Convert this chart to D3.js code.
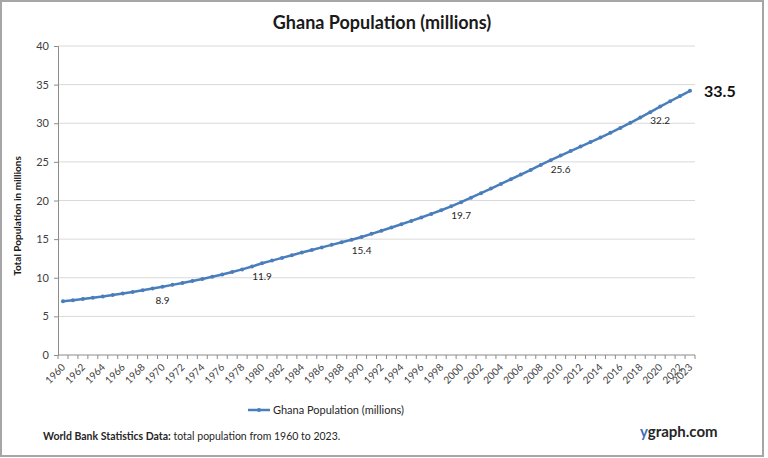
<!DOCTYPE html>
<html>
<head>
<meta charset="utf-8">
<script src="https://cdn.jsdelivr.net/npm/d3@7"></script>
<style>
  body { margin: 0; background: #fff; }
  text { font-family: Lato, "Open Sans", sans-serif; }
</style>
</head>
<body>
<svg id="chart"></svg>
<script>
const years = d3.range(1960, 2024);
const population = [
  6.95, 7.10, 7.25, 7.41, 7.58, 7.76, 7.95, 8.15, 8.38, 8.60,
  8.84, 9.08, 9.33, 9.58, 9.84, 10.12, 10.42, 10.74, 11.08, 11.46,
  11.87, 12.22, 12.57, 12.92, 13.26, 13.60, 13.93, 14.26, 14.60, 14.92,
  15.28, 15.68, 16.08, 16.50, 16.92, 17.36, 17.80, 18.26, 18.74, 19.24,
  19.78, 20.36, 20.95, 21.55, 22.15, 22.75, 23.36, 23.96, 24.60, 25.22,
  25.82, 26.40, 26.98, 27.56, 28.14, 28.76, 29.40, 30.06, 30.74, 31.44,
  32.16, 32.85, 33.52, 34.20
];
const labelYears = [1970, 1980, 1990, 2000, 2010, 2020];
const labelTexts = ["8.9", "11.9", "15.4", "19.7", "25.6", "32.2"];
const lastLabel = "33.5";
const xTickYears = [1960, 1962, 1964, 1966, 1968, 1970, 1972, 1974, 1976, 1978,
  1980, 1982, 1984, 1986, 1988, 1990, 1992, 1994, 1996, 1998, 2000, 2002, 2004,
  2006, 2008, 2010, 2012, 2014, 2016, 2018, 2020, 2022, 2023];
const yTicks = [0, 5, 10, 15, 20, 25, 30, 35, 40];

const W = 768, H = 458;
const M = { top: 46, right: 73, bottom: 103, left: 58 };
const PW = W - M.left - M.right;
const PH = H - M.top - M.bottom;
const lineColor = "#4a7ebb";

const svg = d3.select("#chart")
  .attr("width", W)
  .attr("height", H)
  .attr("viewBox", `0 0 ${W} ${H}`);

svg.append("rect")
  .attr("x", 1).attr("y", 1)
  .attr("width", 762).attr("height", 455)
  .attr("fill", "#fff")
  .attr("stroke", "#a6a6a6")
  .attr("stroke-width", 2);

svg.append("text")
  .attr("x", 382).attr("y", 29)
  .attr("text-anchor", "middle")
  .attr("font-size", 18)
  .attr("font-weight", "bold")
  .attr("fill", "#1a1a1a")
  .text("Ghana Population (millions)");

const g = svg.append("g")
  .attr("transform", `translate(${M.left},${M.top})`);

const x = d3.scaleBand()
  .domain(years)
  .range([0, PW]);

const y = d3.scaleLinear()
  .domain([0, 40])
  .range([PH, 0]);

const cx = d => x(d) + x.bandwidth() / 2;

// grid
g.append("g")
  .selectAll("line")
  .data(yTicks.filter(d => d > 0))
  .enter()
  .append("line")
  .attr("x1", 0).attr("x2", PW)
  .attr("y1", d => y(d)).attr("y2", d => y(d))
  .attr("stroke", "#d9d9d9")
  .attr("stroke-width", 1);

// y axis
g.append("g")
  .call(d3.axisLeft(y).tickValues(yTicks).tickSize(4).tickPadding(5))
  .call(g => g.select(".domain").attr("stroke", "#8c8c8c"))
  .call(g => g.selectAll(".tick line").attr("stroke", "#8c8c8c"))
  .selectAll("text")
  .attr("font-family", "Lato, sans-serif")
  .attr("font-size", 11)
  .attr("fill", "#404040");

// x axis: ticks at category boundaries
const xg = g.append("g")
  .attr("transform", `translate(0,${PH})`);

xg.append("line")
  .attr("x1", 0).attr("x2", PW)
  .attr("stroke", "#8c8c8c");

xg.selectAll(".bound")
  .data(years.concat([2024]))
  .enter()
  .append("line")
  .attr("class", "bound")
  .attr("x1", d => d === 2024 ? PW : x(d))
  .attr("x2", d => d === 2024 ? PW : x(d))
  .attr("y1", 0).attr("y2", 4)
  .attr("stroke", "#8c8c8c");

xg.selectAll(".xlab")
  .data(xTickYears)
  .enter()
  .append("text")
  .attr("class", "xlab")
  .attr("transform", d => `translate(${cx(d) + 3},${13}) rotate(-45)`)
  .attr("text-anchor", "end")
  .attr("font-size", 10)
  .attr("fill", "#404040")
  .text(d => d);

// y axis title
svg.append("text")
  .attr("transform", `translate(21,${216}) rotate(-90)`)
  .attr("text-anchor", "middle")
  .attr("font-size", 10)
  .attr("font-weight", "bold")
  .attr("fill", "#1a1a1a")
  .text("Total Population  in millions");

// line
const line = d3.line()
  .x((d, i) => cx(years[i]))
  .y(d => y(d));

g.append("path")
  .datum(population)
  .attr("fill", "none")
  .attr("stroke", lineColor)
  .attr("stroke-width", 2.5)
  .attr("d", line);

g.selectAll(".dot")
  .data(population)
  .enter()
  .append("circle")
  .attr("class", "dot")
  .attr("cx", (d, i) => cx(years[i]))
  .attr("cy", d => y(d))
  .attr("r", 2)
  .attr("fill", lineColor);

// data labels
g.selectAll(".dlab")
  .data(labelYears)
  .enter()
  .append("text")
  .attr("class", "dlab")
  .attr("x", d => cx(d))
  .attr("y", d => y(population[years.indexOf(d)]) + 17)
  .attr("text-anchor", "middle")
  .attr("font-size", 10)
  .attr("fill", "#262626")
  .text((d, i) => labelTexts[i]);

g.append("text")
  .attr("x", cx(2023) + 14)
  .attr("y", y(population[population.length - 1]) + 6)
  .attr("font-size", 16)
  .attr("font-weight", "bold")
  .attr("fill", "#111")
  .text(lastLabel);

// legend
const lg = svg.append("g").attr("transform", "translate(248,410)");
lg.append("line")
  .attr("x1", 0).attr("x2", 22)
  .attr("stroke", lineColor)
  .attr("stroke-width", 2.5);
lg.append("circle")
  .attr("cx", 11).attr("r", 2)
  .attr("fill", lineColor);
lg.append("text")
  .attr("x", 25).attr("y", 4)
  .attr("font-size", 11)
  .attr("fill", "#262626")
  .text("Ghana Population (millions)");

// footer
const ft = svg.append("text")
  .attr("x", 43).attr("y", 440)
  .attr("font-size", 10.5)
  .attr("fill", "#262626");
ft.append("tspan").attr("font-weight", "bold").text("World Bank Statistics Data:");
ft.append("tspan").text(" total population from 1960 to 2023.");

const yg = svg.append("text")
  .attr("x", 640).attr("y", 437)
  .attr("font-size", 15)
  .attr("font-weight", "bold")
  .attr("fill", "#262626");
yg.append("tspan").attr("fill", "#3f6fb8").text("y");
yg.append("tspan").text("graph.com");
</script>
</body>
</html>
